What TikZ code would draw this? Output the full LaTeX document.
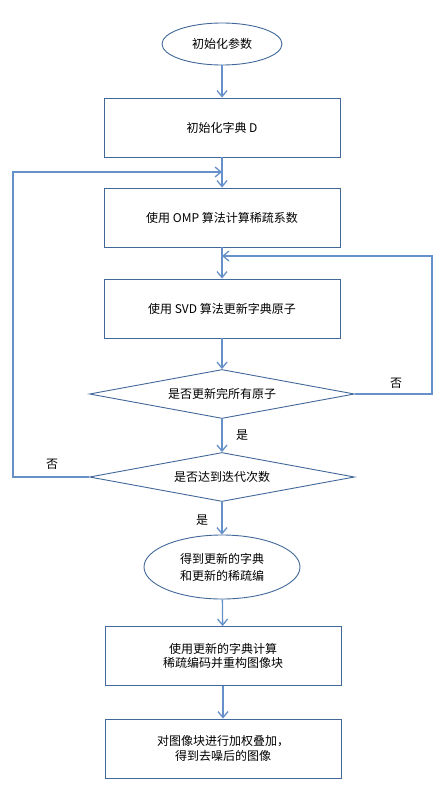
\documentclass[tikz,border=0pt]{standalone}
\usepackage{fontspec}
\setmainfont{Noto Sans CJK SC}
\usetikzlibrary{arrows.meta,shapes.geometric}
\definecolor{rim}{RGB}{66,104,153}
\definecolor{flowc}{RGB}{102,144,202}

\begin{document}
\begin{tikzpicture}[x=1pt, y=-1pt,
    every node/.style={font=\fontsize{12}{17}\selectfont},
    box/.style={draw=rim, line width=0.9pt, minimum width=236pt, minimum height=59pt, inner sep=0pt},
    oval/.style={ellipse, draw=rim, line width=0.9pt, inner sep=0pt, align=center},
    choice/.style={diamond, draw=rim, line width=0.9pt, aspect=5.4, inner sep=0pt, minimum width=265pt, minimum height=49pt},
    flow/.style={draw=flowc, line width=1.3pt, -{Straight Barb[length=6pt,width=10pt]}}]
    \useasboundingbox (0,0) rectangle (447,792);

    % Блоки
    \node[oval, minimum width=120pt, minimum height=42pt] (start) at (222,44) {初始化参数};
    \node[box] (init) at (222,127.5) {初始化字典 D};
    \node[box] (omp) at (222,217.5) {使用 OMP 算法计算稀疏系数};
    \node[box] (svd) at (222,308.5) {使用 SVD 算法更新字典原子};
    \node[choice] (done) at (222,394) {是否更新完所有原子};
    \node[choice] (iter) at (222,477) {是否达到迭代次数};
    \node[oval, minimum width=156pt, minimum height=64pt] (result) at (222,567) {得到更新的字典\\和更新的稀疏编};
    \node[box] (recon) at (223,656) {\shortstack{使用更新的字典计算\\稀疏编码并重构图像块}};
    \node[box] (merge) at (223,748.5) {\shortstack{对图像块进行加权叠加，\\得到去噪后的图像}};

    % Стрелки
    \draw[flow] (start) -- (init);
    \draw[flow] (init) -- (omp);
    \draw[flow] (omp) -- (svd);
    \draw[flow] (svd) -- (done);
    \draw[flow] (done) -- (iter);
    \draw[flow] (iter) -- (result);
    \draw[flow] (result) -- (recon);
    \draw[flow] (recon) -- (merge);

    % Обратные связи
    \coordinate (inL) at (222,172);
    \coordinate (farL) at (13,172);
    \coordinate (inR) at (222,256);
    \coordinate (farR) at (432,256);
    \draw[flow] (done.east) -| (farR) -- (inR);
    \draw[flow] (iter.west) -| (farL) -- (inL);

    \node (noR) at (396,383) {否};
    \node (yesA) at (242,435) {是};
    \node (noL) at (52,464) {否};
    \node (yesB) at (202,520) {是};
\end{tikzpicture}
\end{document}
